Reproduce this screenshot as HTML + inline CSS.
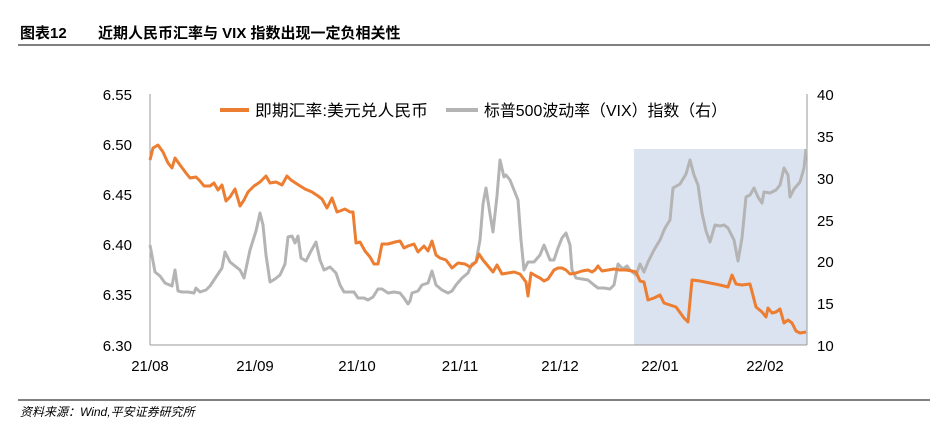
<!DOCTYPE html>
<html><head><meta charset="utf-8"><style>
body{margin:0;background:#fff;width:948px;height:438px;overflow:hidden;font-family:"Liberation Sans","Noto Sans CJK SC",sans-serif}
</style></head><body>
<svg width="948" height="438" xmlns="http://www.w3.org/2000/svg" font-family="Liberation Sans, Noto Sans CJK SC, sans-serif">
<text x="20" y="38" font-size="15" font-weight="bold" fill="#000">图表12</text>
<text x="98" y="38" font-size="15" font-weight="bold" fill="#000">近期人民币汇率与 VIX 指数出现一定负相关性</text>
<line x1="18" y1="45" x2="930" y2="45" stroke="#000" stroke-width="1"/>
<rect x="634" y="149" width="173" height="196" fill="#dae3ef"/>
<line x1="150" y1="94" x2="150" y2="345" stroke="#999"/>
<line x1="807" y1="94" x2="807" y2="345" stroke="#999"/>
<line x1="150" y1="345" x2="807" y2="345" stroke="#999"/>
<g font-size="15" fill="#000" text-anchor="end">
<text x="132" y="100">6.55</text><text x="132" y="150">6.50</text><text x="132" y="200">6.45</text><text x="132" y="250">6.40</text><text x="132" y="300">6.35</text><text x="132" y="351">6.30</text>
</g>
<g font-size="15" fill="#000">
<text x="817" y="100">40</text><text x="817" y="142">35</text><text x="817" y="184">30</text><text x="817" y="226">25</text><text x="817" y="267">20</text><text x="817" y="309">15</text><text x="817" y="351">10</text>
</g>
<g font-size="15" fill="#000" text-anchor="middle">
<text x="150" y="371">21/08</text><text x="255" y="371">21/09</text><text x="357" y="371">21/10</text><text x="460" y="371">21/11</text><text x="560" y="371">21/12</text><text x="660" y="371">22/01</text><text x="765" y="371">22/02</text>
</g>
<line x1="220" y1="110" x2="249" y2="110" stroke="#ed7d31" stroke-width="4"/>
<text x="255" y="116" font-size="16" textLength="173" lengthAdjust="spacingAndGlyphs">即期汇率:美元兑人民币</text>
<line x1="446" y1="110" x2="478" y2="110" stroke="#b4b4b4" stroke-width="4"/>
<text x="484" y="116" font-size="16" textLength="243" lengthAdjust="spacingAndGlyphs">标普500波动率（VIX）指数（右）</text>
<polyline fill="none" stroke="#b4b4b4" stroke-width="3" stroke-linejoin="round" points="150,245 155,272 160,276 165,283 172,286 175,270 178,291 182,292 188,292 194,293 196,288 200,292 206,290 210,286 216,277 222,268 225,252 230,262 235,266 240,270 244,278 250,250 256,231 260,213 263,225 266,255 270,282 275,279 280,275 285,264 288,237 292,236 295,243 298,236 301,258 306,261 311,251 316,242 320,260 324,270 330,267 336,273 340,285 344,292 348,292 354,292 358,298 364,298 368,300 373,297 378,289 382,289 388,293 394,292 400,293 404,298 408,304 410,301 412,293 418,291 422,285 428,283 432,271 436,285 442,290 448,293 452,291 456,285 462,278 468,273 472,264 476,262 480,240 483,204 486,188 490,214 493,232 497,196 500,160 504,177 506,175 510,180 514,190 518,200 521,240 524,270 528,262 534,262 540,255 544,245 550,260 554,260 558,248 562,238 566,233 570,245 572,270 576,278 582,279 588,280 594,285 598,288 604,288 610,289 614,285 618,264 623,269 627,266 630,270 636,275 640,264 644,272 648,262 654,250 660,240 665,228 670,220 673,188 680,184 686,174 690,160 694,175 698,185 702,213 706,231 710,242 715,225 720,226 724,225 728,228 734,240 738,261 742,238 746,197 750,195 754,188 758,197 762,203 764,192 770,193 776,190 780,185 784,168 788,175 790,197 794,189 800,182 804,168 806,149"/>
<polyline fill="none" stroke="#ed7d31" stroke-width="3" stroke-linejoin="round" points="150,160 153,148 158,145 163,152 168,163 172,168 175,158 180,165 186,173 190,178 196,177 200,181 204,186 210,186 214,183 218,190 222,185 226,201 230,197 235,189 240,206 244,200 248,192 254,186 260,182 266,176 270,183 276,182 282,185 287,176 291,180 297,184 305,189 312,192 318,196 322,199 327,208 332,198 337,212 340,211 345,209 350,212 353,212 356,243 360,242 365,251 370,257 374,264 378,264 382,244 388,244 395,242 400,241 404,248 408,246 414,244 418,252 424,246 428,251 432,241 436,255 440,258 446,260 452,268 458,263 465,264 470,267 476,262 479,254 483,260 488,266 493,272 497,265 502,274 508,273 514,272 520,274 526,282 528,296 531,273 536,276 540,278 544,281 548,279 554,270 558,268 562,268 566,270 570,274 576,273 582,271 588,270 592,272 595,270 598,266 602,271 608,270 614,269 620,270 626,270 632,271 636,272 640,281 644,282 648,300 654,298 660,295 664,303 670,305 676,307 684,318 688,322 692,280 700,281 710,283 720,285 728,287 732,275 736,284 742,285 750,284 756,307 762,312 766,317 768,308 772,313 776,312 780,309 784,323 788,320 792,323 796,331 800,333 806,332"/>
<line x1="18" y1="400" x2="930" y2="400" stroke="#000" stroke-width="1"/>
<text x="20" y="416" font-size="12" font-style="italic">资料来源：Wind,平安证券研究所</text>
</svg>
</body></html>
